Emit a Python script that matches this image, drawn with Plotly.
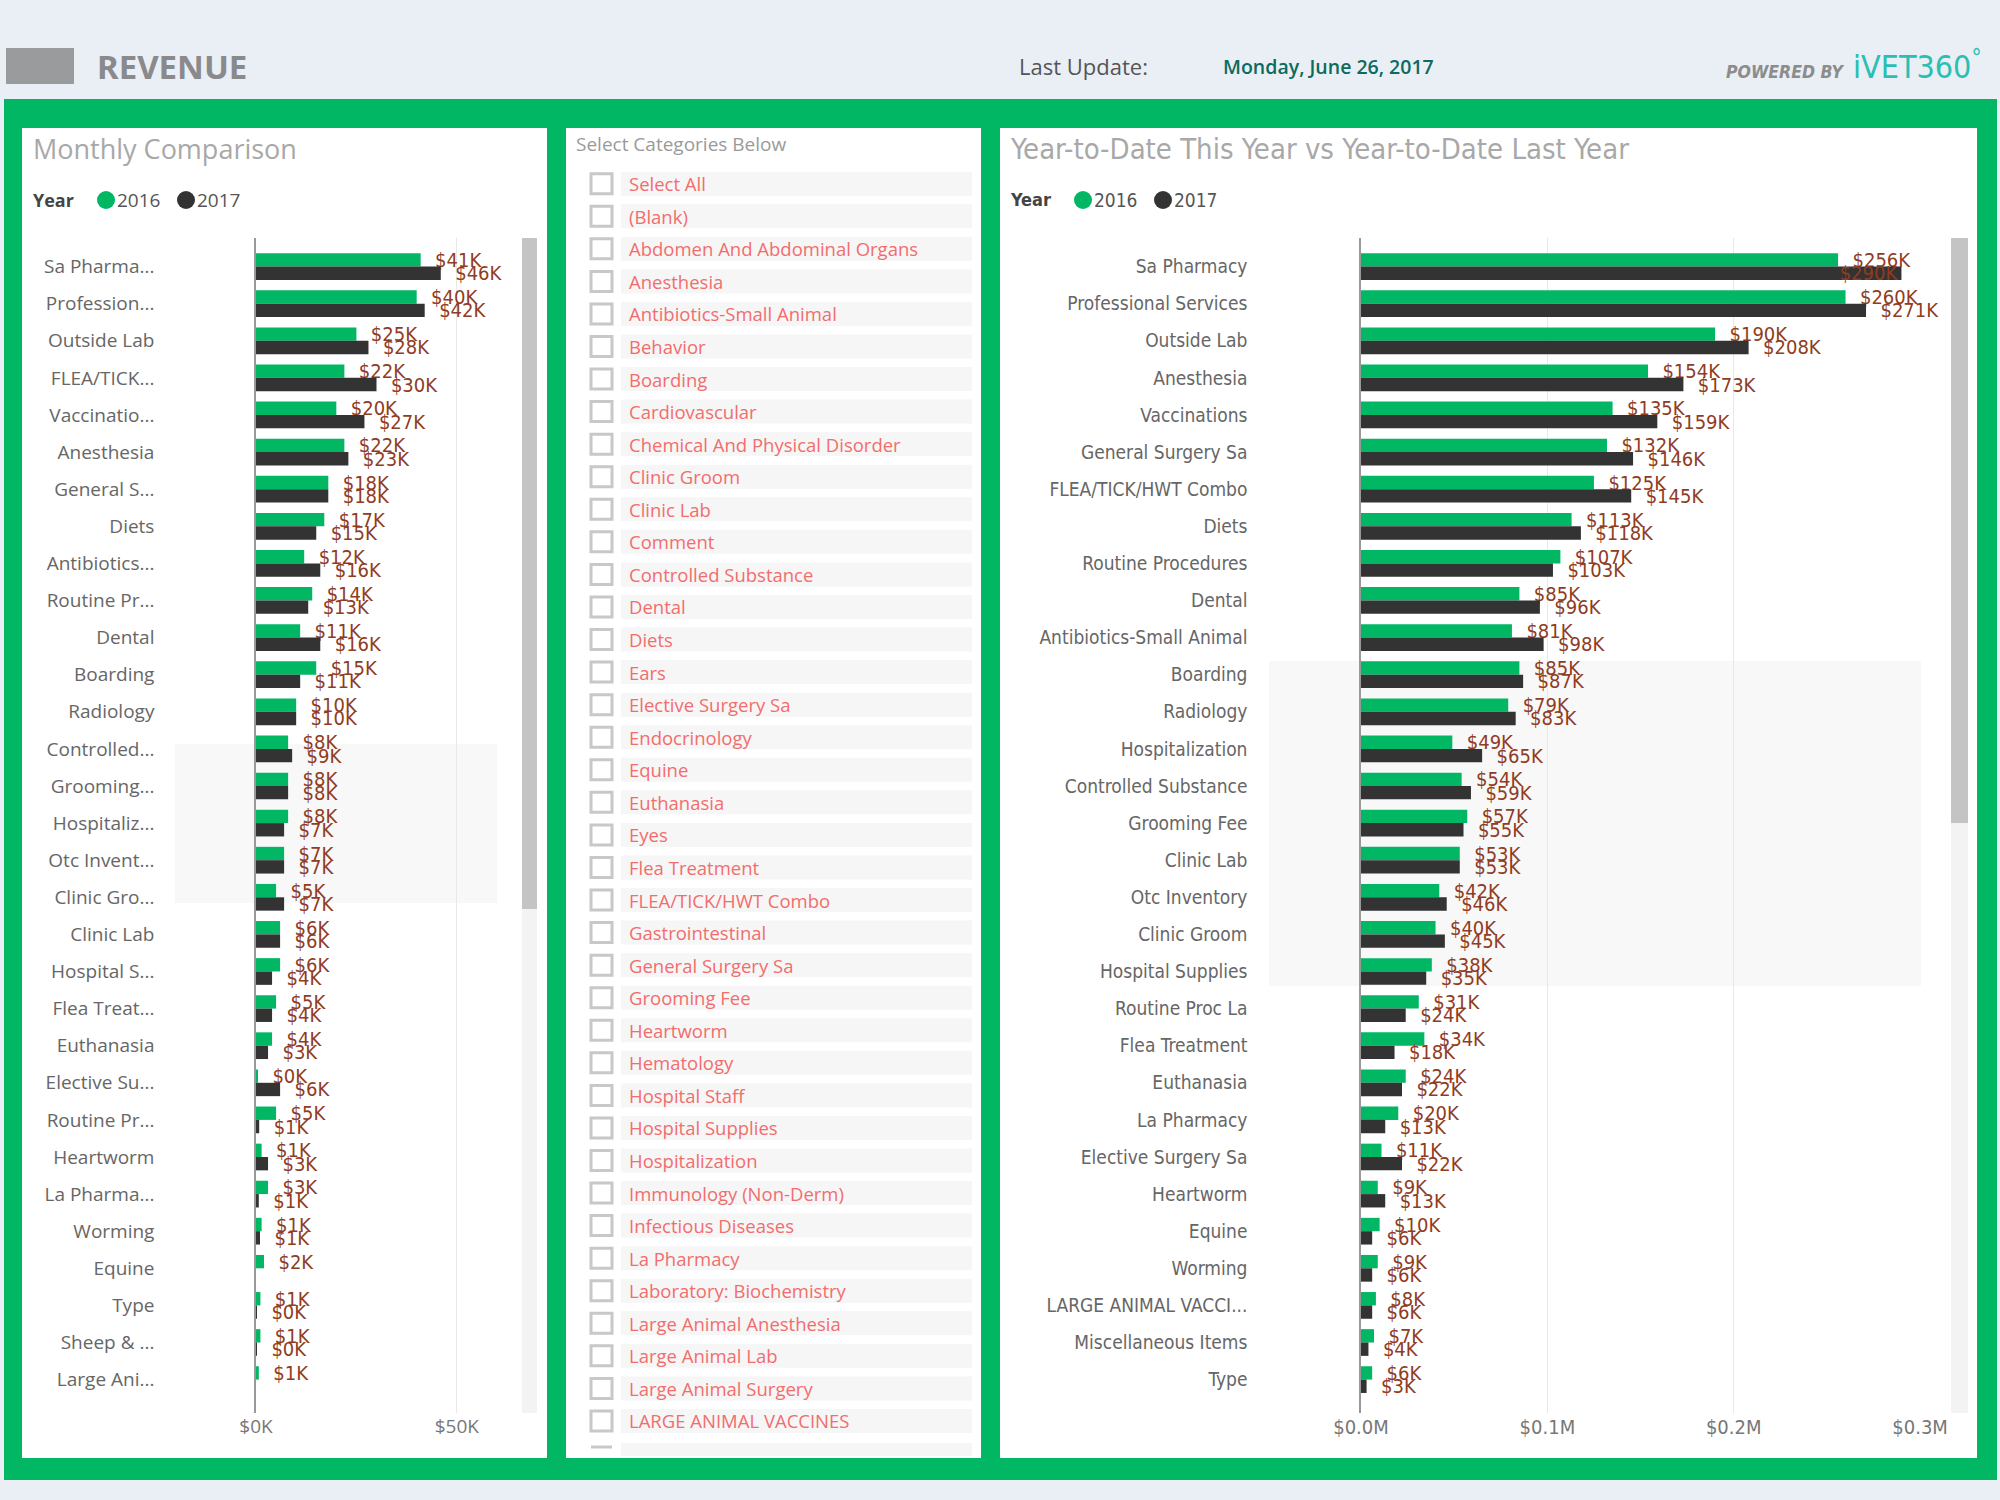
import plotly.graph_objects as go

# ---------------- data ----------------
SERIES = ["2016", "2017"]
SERIES_COLORS = ["#01b763", "#333333"]

LEFT_CATEGORIES = ["Sa Pharmacy", "Professional Services", "Outside Lab", "FLEA/TICK/HWT Combo",
                   "Vaccinations", "Anesthesia", "General Surgery Sa", "Diets",
                   "Antibiotics-Small Animal", "Routine Procedures", "Dental", "Boarding",
                   "Radiology", "Controlled Substance", "Grooming Fee", "Hospitalization",
                   "Otc Inventory", "Clinic Groom", "Clinic Lab", "Hospital Supplies",
                   "Flea Treatment", "Euthanasia", "Elective Surgery Sa", "Routine Proc La",
                   "Heartworm", "La Pharmacy", "Worming", "Equine", "Type", "Sheep & Goat",
                   "Large Animal Vaccines"]
LEFT_TICK_LABELS = ["Sa Pharma...", "Profession...", "Outside Lab", "FLEA/TICK...",
                    "Vaccinatio...", "Anesthesia", "General S...", "Diets",
                    "Antibiotics...", "Routine Pr...", "Dental", "Boarding",
                    "Radiology", "Controlled...", "Grooming...", "Hospitaliz...",
                    "Otc Invent...", "Clinic Gro...", "Clinic Lab", "Hospital S...",
                    "Flea Treat...", "Euthanasia", "Elective Su...", "Routine Pr...",
                    "Heartworm", "La Pharma...", "Worming", "Equine", "Type", "Sheep & ...",
                    "Large Ani..."]
LEFT_2016 = [41, 40, 25, 22, 20, 22, 18, 17, 12, 14, 11, 15, 10, 8, 8, 8, 7, 5, 6, 6, 5, 4,
             0.3, 5, 1.4, 3, 1.4, 2, 1.1, 1.1, 0.7]
LEFT_2017 = [46, 42, 28, 30, 27, 23, 18, 15, 16, 13, 16, 11, 10, 9, 8, 7, 7, 7, 6, 4, 4, 3,
             6, 0.8, 3, 0.7, 1, None, 0.2, 0.2, None]
LEFT_TICKS = [0, 50]
LEFT_TICK_TEXT = ["$0K", "$50K"]

RIGHT_CATEGORIES = ["Sa Pharmacy", "Professional Services", "Outside Lab", "Anesthesia",
                    "Vaccinations", "General Surgery Sa", "FLEA/TICK/HWT Combo", "Diets",
                    "Routine Procedures", "Dental", "Antibiotics-Small Animal", "Boarding",
                    "Radiology", "Hospitalization", "Controlled Substance", "Grooming Fee",
                    "Clinic Lab", "Otc Inventory", "Clinic Groom", "Hospital Supplies",
                    "Routine Proc La", "Flea Treatment", "Euthanasia", "La Pharmacy",
                    "Elective Surgery Sa", "Heartworm", "Equine", "Worming",
                    "LARGE ANIMAL VACCI...", "Miscellaneous Items", "Type"]
RIGHT_2016 = [256, 260, 190, 154, 135, 132, 125, 113, 107, 85, 81, 85, 79, 49, 54, 57, 53, 42,
              40, 38, 31, 34, 24, 20, 11, 9, 10, 9, 8, 7, 6]
RIGHT_2017 = [290, 271, 208, 173, 159, 146, 145, 118, 103, 96, 98, 87, 83, 65, 59, 55, 53, 46,
              45, 35, 24, 18, 22, 13, 22, 13, 6, 6, 6, 4, 3]
RIGHT_TICKS = [0, 100, 200, 300]
RIGHT_TICK_TEXT = ["$0.0M", "$0.1M", "$0.2M", "$0.3M"]

SLICER_ITEMS = ["Select All", "(Blank)", "Abdomen And Abdominal Organs", "Anesthesia",
                "Antibiotics-Small Animal", "Behavior", "Boarding", "Cardiovascular",
                "Chemical And Physical Disorder", "Clinic Groom", "Clinic Lab", "Comment",
                "Controlled Substance", "Dental", "Diets", "Ears", "Elective Surgery Sa",
                "Endocrinology", "Equine", "Euthanasia", "Eyes", "Flea Treatment",
                "FLEA/TICK/HWT Combo", "Gastrointestinal", "General Surgery Sa", "Grooming Fee",
                "Heartworm", "Hematology", "Hospital Staff", "Hospital Supplies",
                "Hospitalization", "Immunology (Non-Derm)", "Infectious Diseases", "La Pharmacy",
                "Laboratory: Biochemistry", "Large Animal Anesthesia", "Large Animal Lab",
                "Large Animal Surgery", "LARGE ANIMAL VACCINES"]

# ---------------- styling ----------------
W, H = 2000, 1500
GREEN = "#01b763"
SEGOE = "Open Sans, Noto Sans, sans-serif"
COND = "Liberation Sans Narrow, DejaVu Sans Condensed, sans-serif"
LABEL_COLOR = "#8f3c22"
RIGHT_MAX = 300.5          # axis range end (K)
LABEL_FIT_LIMIT = 280      # labels beyond this no longer fit outside the bar


def X(px):
    return px / W


def Y(py):
    return 1 - py / H


PLOT_TOP, PLOT_BOT = 238, 1413
YDOM = [Y(PLOT_BOT), Y(PLOT_TOP)]
YRANGE = [30.9, -0.77]

fig = go.Figure()

for vals, name, color in zip([LEFT_2016, LEFT_2017], SERIES, SERIES_COLORS):
    fig.add_trace(go.Bar(
        x=vals, y=LEFT_CATEGORIES, orientation="h", name=name,
        marker=dict(color=color, line=dict(width=0)),
        texttemplate="  $%{x:.0f}K", textposition="outside", constraintext="none",
        cliponaxis=False, textangle=0,
        textfont=dict(family=COND, size=20, color=LABEL_COLOR),
        xaxis="x", yaxis="y", showlegend=False, hoverinfo="skip"))

for vals, name, color in zip([RIGHT_2016, RIGHT_2017], SERIES, SERIES_COLORS):
    positions = ["inside" if v > LABEL_FIT_LIMIT else "outside" for v in vals]
    fig.add_trace(go.Bar(
        x=vals, y=RIGHT_CATEGORIES, orientation="h", name=name,
        marker=dict(color=color, line=dict(width=0)),
        texttemplate="  $%{x:.0f}K", textposition=positions, constraintext="none",
        insidetextanchor="end",
        cliponaxis=False, textangle=0,
        textfont=dict(family=COND, size=20, color=LABEL_COLOR),
        insidetextfont=dict(family=COND, size=20, color=LABEL_COLOR),
        outsidetextfont=dict(family=COND, size=20, color=LABEL_COLOR),
        xaxis="x2", yaxis="y2", showlegend=False, hoverinfo="skip"))

shapes = []
annotations = []

# frame & panels
shapes.append(dict(type="rect", xref="paper", yref="paper", x0=X(4), x1=X(1997),
                   y0=Y(1480), y1=Y(99), fillcolor=GREEN, line=dict(width=0), layer="below"))
for (x0, x1) in [(22, 547), (566, 981), (1000, 1977)]:
    shapes.append(dict(type="rect", xref="paper", yref="paper", x0=X(x0), x1=X(x1),
                       y0=Y(1458), y1=Y(128), fillcolor="white", line=dict(width=0),
                       layer="below"))

# faint hover highlight areas
shapes.append(dict(type="rect", xref="paper", yref="paper", x0=X(175), x1=X(497),
                   y0=Y(903), y1=Y(744), fillcolor="#f8f8f8", line=dict(width=0), layer="below"))
shapes.append(dict(type="rect", xref="paper", yref="paper", x0=X(1269), x1=X(1921),
                   y0=Y(986), y1=Y(661), fillcolor="#f8f8f8", line=dict(width=0), layer="below"))

# scrollbars
for (x0, x1, thumb_bot) in [(522, 537, 909), (1951, 1968, 823)]:
    shapes.append(dict(type="rect", xref="paper", yref="paper", x0=X(x0), x1=X(x1),
                       y0=Y(PLOT_BOT), y1=Y(PLOT_TOP), fillcolor="#f3f3f3",
                       line=dict(width=0), layer="below"))
    shapes.append(dict(type="rect", xref="paper", yref="paper", x0=X(x0), x1=X(x1),
                       y0=Y(thumb_bot), y1=Y(PLOT_TOP), fillcolor="#c4c4c4",
                       line=dict(width=0), layer="below"))

# header
shapes.append(dict(type="rect", xref="paper", yref="paper", x0=X(6), x1=X(74),
                   y0=Y(84), y1=Y(48), fillcolor="#9a9b9d", line=dict(width=0), layer="below"))
annotations += [
    dict(text="<b>REVENUE</b>", x=X(95), y=Y(67), xanchor="left", yanchor="middle",
         font=dict(family="Noto Sans, sans-serif", size=33, color="#8a8a8c")),
    dict(text="Last Update:", x=X(1017), y=Y(66), xanchor="left", yanchor="middle",
         font=dict(family=SEGOE, size=22, color="#555555")),
    dict(text="Monday, June 26, 2017", x=X(1221), y=Y(66), xanchor="left", yanchor="middle",
         font=dict(family=SEGOE, size=19.5, color="#0e6a5c", weight=600)),
    dict(text="<b><i>POWERED BY</i></b>", x=X(1847), y=Y(72), xanchor="right", yanchor="middle",
         font=dict(family=COND, size=17.5, color="#8c8c8c")),
    dict(text="iVET360<sup>°</sup>", x=X(1851), y=Y(65), xanchor="left", yanchor="middle",
         font=dict(family=COND, size=32, color="#2abfb3")),
]

# panel titles
annotations += [
    dict(text="Monthly Comparison", x=X(31), y=Y(149), xanchor="left", yanchor="middle",
         font=dict(family=SEGOE, size=27, color="#a8a8a8")),
    dict(text="Select Categories Below", x=X(574), y=Y(144), xanchor="left", yanchor="middle",
         font=dict(family=SEGOE, size=19, color="#9a9a9a")),
    dict(text="Year-to-Date This Year vs Year-to-Date Last Year", x=X(1008), y=Y(149),
         xanchor="left", yanchor="middle",
         font=dict(family=COND, size=29, color="#a8a8a8")),
]


# legends (custom, circles)
def legend(x_year, circles, font_family):
    annotations.append(dict(text="<b>Year</b>", x=X(x_year), y=Y(200), xanchor="left",
                            yanchor="middle", font=dict(family=font_family, size=18,
                                                        color="#444444")))
    for (cx, name, color) in zip(circles, SERIES, SERIES_COLORS):
        shapes.append(dict(type="circle", xref="paper", yref="paper", x0=X(cx), x1=X(cx + 18),
                           y0=Y(209), y1=Y(191), fillcolor=color, line=dict(width=0)))
        annotations.append(dict(text=name, x=X(cx + 18), y=Y(200), xanchor="left",
                                yanchor="middle", font=dict(family=font_family, size=19,
                                                            color="#555555")))


legend(31, [97, 177], SEGOE)
legend(1008, [1074, 1154], COND)

# slicer list
for i, item in enumerate(SLICER_ITEMS):
    yc = 183.7 + i * 32.56
    shapes.append(dict(type="rect", xref="paper", yref="paper", x0=X(621), x1=X(972),
                       y0=Y(yc + 12), y1=Y(yc - 12), fillcolor="#f6f6f6",
                       line=dict(width=0), layer="below"))
    shapes.append(dict(type="rect", xref="paper", yref="paper", x0=X(591), x1=X(612),
                       y0=Y(yc + 10), y1=Y(yc - 10), fillcolor="rgba(0,0,0,0)",
                       line=dict(color="#c8c8c8", width=3)))
    annotations.append(dict(text=item, x=X(627), y=Y(yc), xanchor="left", yanchor="middle",
                            font=dict(family=SEGOE, size=18.5, color="#f26d6d")))
# partially visible next row
shapes.append(dict(type="rect", xref="paper", yref="paper", x0=X(621), x1=X(972),
                   y0=Y(1456), y1=Y(1443), fillcolor="#f6f6f6", line=dict(width=0),
                   layer="below"))
shapes.append(dict(type="line", xref="paper", yref="paper", x0=X(591), x1=X(612),
                   y0=Y(1447), y1=Y(1447), line=dict(color="#c8c8c8", width=3)))

for a in annotations:
    a.setdefault("xref", "paper")
    a.setdefault("yref", "paper")
    a.setdefault("showarrow", False)

fig.update_layout(
    width=W, height=H, autosize=False,
    margin=dict(l=0, r=0, t=0, b=0, autoexpand=False),
    paper_bgcolor="#e9eff5", plot_bgcolor="rgba(0,0,0,0)",
    barmode="group", bargap=0.28, bargroupgap=0,
    showlegend=False,
    shapes=shapes, annotations=annotations,
    xaxis=dict(domain=[X(256), X(497)], range=[0, 60], anchor="y", automargin=False,
               tickvals=LEFT_TICKS, ticktext=LEFT_TICK_TEXT,
               showgrid=True, gridcolor="#e8e8e8", gridwidth=1, zeroline=False,
               showline=False, ticks="", tickfont=dict(family=SEGOE, size=19, color="#777777"),
               fixedrange=True),
    yaxis=dict(domain=YDOM, range=YRANGE, anchor="x", automargin=False,
               tickmode="array", tickvals=LEFT_CATEGORIES, ticktext=LEFT_TICK_LABELS,
               showgrid=False, zeroline=False, showline=True, linecolor="#999999", linewidth=1.5,
               ticks="", ticklabelstandoff=96,
               tickfont=dict(family=SEGOE, size=19, color="#666666"), fixedrange=True),
    xaxis2=dict(domain=[X(1361), X(1921)], range=[0, RIGHT_MAX], anchor="y2", automargin=False,
                tickvals=RIGHT_TICKS, ticktext=RIGHT_TICK_TEXT,
                showgrid=True, gridcolor="#e8e8e8", gridwidth=1, zeroline=False,
                showline=False, ticks="", tickfont=dict(family=COND, size=20, color="#777777"),
                fixedrange=True),
    yaxis2=dict(domain=YDOM, range=YRANGE, anchor="x2", automargin=False,
                tickmode="array", tickvals=RIGHT_CATEGORIES, ticktext=RIGHT_CATEGORIES,
                showgrid=False, zeroline=False, showline=True, linecolor="#999999", linewidth=1.5,
                ticks="", ticklabelstandoff=108,
                tickfont=dict(family=COND, size=19, color="#666666"), fixedrange=True),
)

fig.write_html("out.html")
